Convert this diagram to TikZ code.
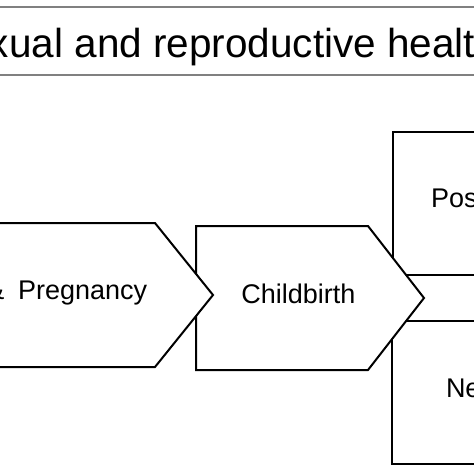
\documentclass[tikz,border=0pt]{standalone}
\usepackage{fontspec}
\setmainfont{Liberation Sans}
\begin{document}
\begin{tikzpicture}[x=1pt,y=-1pt,
  rule/.style={draw=black!50,line width=1.5pt},
  stage/.style={draw=black,fill=white,line width=2pt,line join=miter},
  boxed/.style={draw=black,fill=white,line width=2pt},
  lbl/.style={inner sep=0pt,outer sep=0pt,font=\fontsize{27}{27}\selectfont},
  ttl/.style={inner sep=0pt,outer sep=0pt,font=\fontsize{40.5}{40.5}\selectfont}]
\useasboundingbox (0,0) rectangle (474,474);
\begin{scope}
\clip (0,0) rectangle (474,474);
% title band
\draw[rule] (-5,7) -- (480,7);
\draw[rule] (-5,75) -- (480,75);
\node[ttl,anchor=base west] (title) at (-11,57) {xual and reproductive healt};
% right boxes
\draw[boxed] (393,132) rectangle (490,275);
\draw[boxed] (392,321) rectangle (490,464);
% childbirth chevron
\draw[stage] (196,226) -- (368,226) -- (424,298) -- (368,370) -- (196,370) -- cycle;
% pregnancy chevron
\draw[stage] (-20,223) -- (155,223) -- (213,295) -- (155,367) -- (-20,367) -- cycle;
\node[lbl,anchor=base west] (preg) at (-13.5,299) {\&\hspace{6pt} Pregnancy};
\node[lbl,anchor=base] (birth) at (298.5,303) {Childbirth};
\node[lbl,anchor=base west] (post) at (431,207) {Pos};
\node[lbl,anchor=base west] (newb) at (446,397) {Ne};
\end{scope}
\end{tikzpicture}
\end{document}
